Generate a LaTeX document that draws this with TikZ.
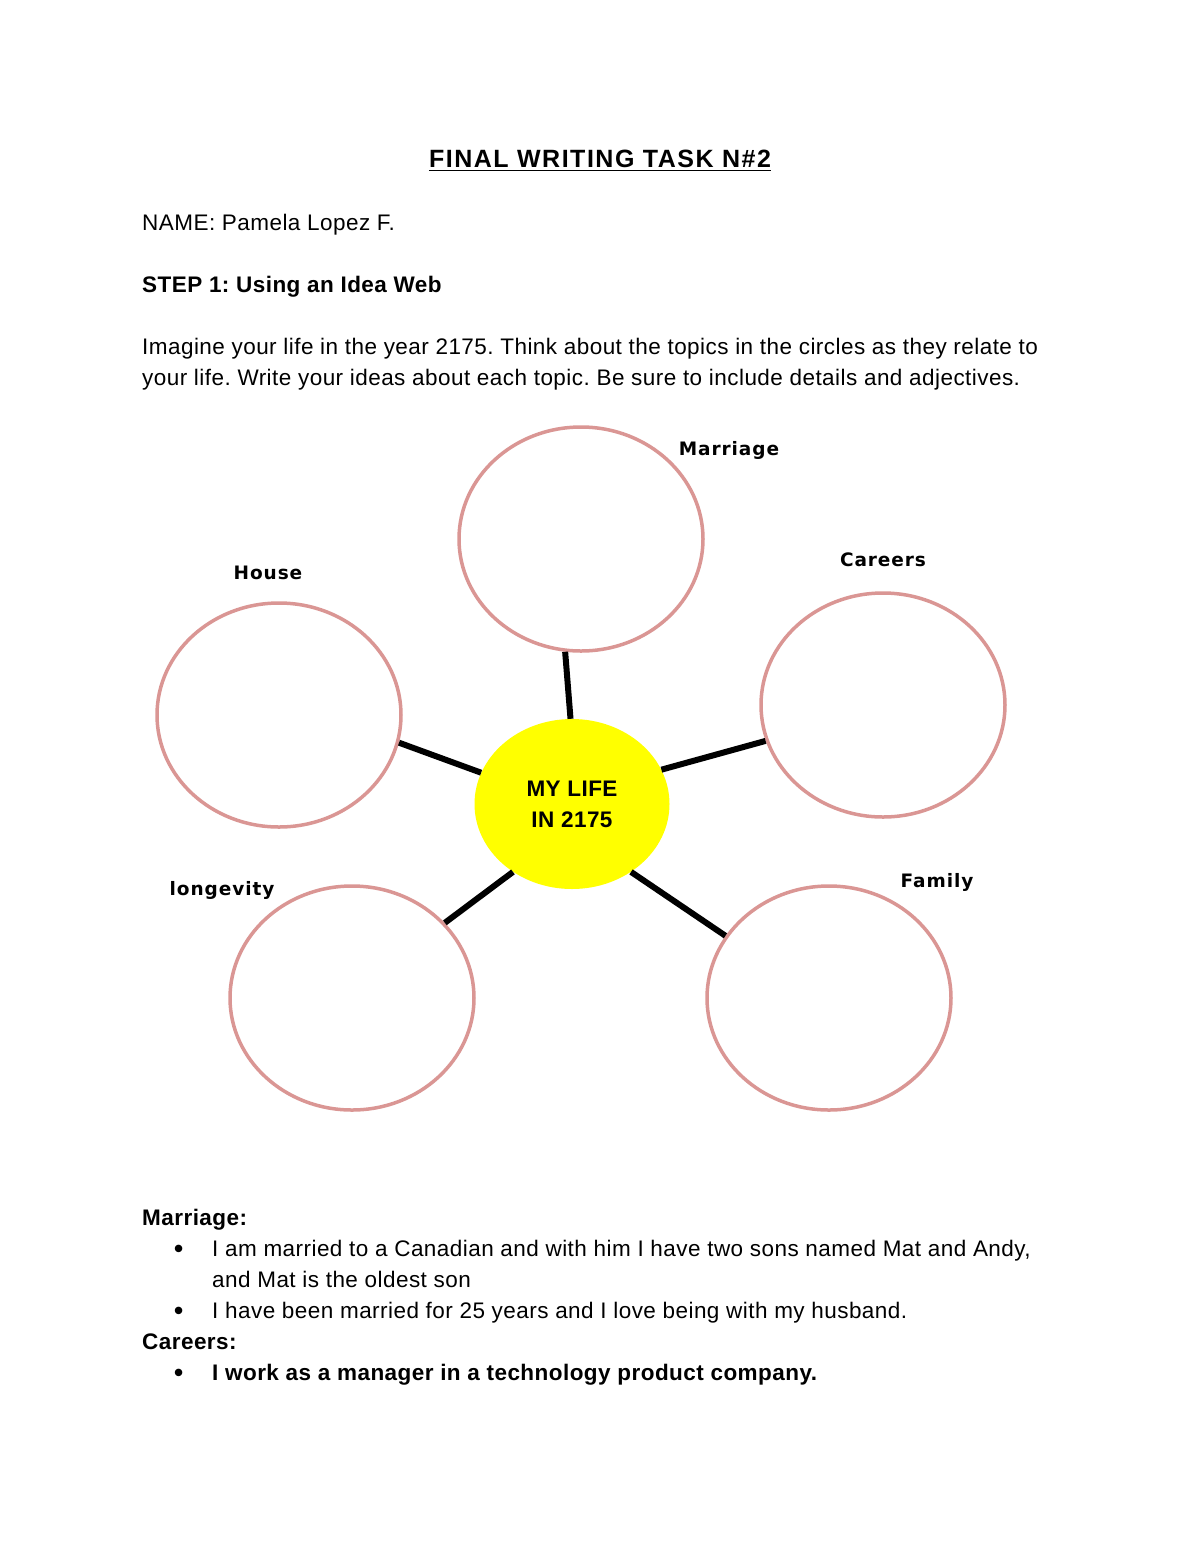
\documentclass[tikz,border=0pt]{standalone}
\usepackage{fontspec}
\setmainfont[LetterSpace=2]{Liberation Sans}
\newfontfamily\titlefont[LetterSpace=6]{Liberation Sans}
\newfontfamily\tagfont[LetterSpace=5]{DejaVu Sans}
\usetikzlibrary{shapes.geometric}
\definecolor{CircClr}{RGB}{218,150,148}
\definecolor{HubClr}{RGB}{255,255,0}
\frenchspacing

\begin{document}
\begin{tikzpicture}[x=1pt,y=-1pt,
  topic/.style={draw=CircClr,line width=3.5pt,ellipse,minimum width=244pt,minimum height=224pt,inner sep=0pt},
  hub/.style={fill=HubClr,ellipse,minimum width=195pt,minimum height=170pt,inner sep=0pt,
    font=\fontsize{22.5}{31}\selectfont\bfseries,align=center},
  tag/.style={font=\tagfont\fontsize{18.5}{23}\selectfont\bfseries},
  txt/.style={anchor=base west,inner sep=0pt,font=\fontsize{22.5}{31}\selectfont},
  bold/.style={txt,font=\fontsize{22.5}{31}\selectfont\bfseries},
  dot/.style={txt,font=\fontsize{26}{31}\selectfont\bfseries},
  spoke/.style={line width=6pt}]
\useasboundingbox (0,0) rectangle (1200,1553);

% header
\node[anchor=base,inner sep=0pt,font=\titlefont\fontsize{25}{30}\selectfont\bfseries] (title) at (600,167) {FINAL WRITING TASK N\#2};
\draw[line width=1.8pt] ([yshift=-3.5pt]title.base west) -- ([yshift=-3.5pt]title.base east);
\node[txt] (name) at (142,230) {NAME: Pamela Lopez F.};
\node[bold] (step) at (142,292) {STEP 1: Using an Idea Web};
\node[txt] (intro1) at (142,354) {Imagine your life in the year 2175. Think about the topics in the circles as they relate to};
\node[txt] (intro2) at (142,385) {your life. Write your ideas about each topic. Be sure to include details and adjectives.};

% idea web
\node[hub] (life) at (572,804) {MY LIFE\\IN 2175};
\node[topic] (mar) at (581,539) {};
\node[topic] (hou) at (279,715) {};
\node[topic] (car) at (883,705) {};
\node[topic] (lon) at (352,998) {};
\node[topic] (fam) at (829,998) {};

\draw[spoke] (life.91) -- (mar.262);
\draw[spoke] (life.161) -- (hou.-13);
\draw[spoke] (life.21) -- (car.197);
\draw[spoke] (life.229) -- (lon.39);
\draw[spoke] (life.311) -- (fam.149);

\node[tag] (marlbl) at (729,450) {Marriage};
\node[tag] (houlbl) at (268,573) {House};
\node[tag] (carlbl) at (883,560) {Careers};
\node[tag] (lonlbl) at (222,890) {longevity};
\node[tag] (famlbl) at (937,882) {Family};

% answers
\node[bold] (marhd) at (142,1225) {Marriage:};
\node[dot] (b1) at (174,1257) {\textbullet};
\node[txt] (a1) at (212,1256) {I am married to a Canadian and with him I have two sons named Mat and Andy,};
\node[txt] (a1b) at (212,1287) {and Mat is the oldest son};
\node[dot] (b2) at (174,1319) {\textbullet};
\node[txt] (a2) at (212,1318) {I have been married for 25 years and I love being with my husband.};
\node[bold] (carhd) at (142,1349) {Careers:};
\node[dot] (b3) at (174,1381) {\textbullet};
\node[bold] (a3) at (212,1380) {I work as a manager in a technology product company.};
\end{tikzpicture}
\end{document}
